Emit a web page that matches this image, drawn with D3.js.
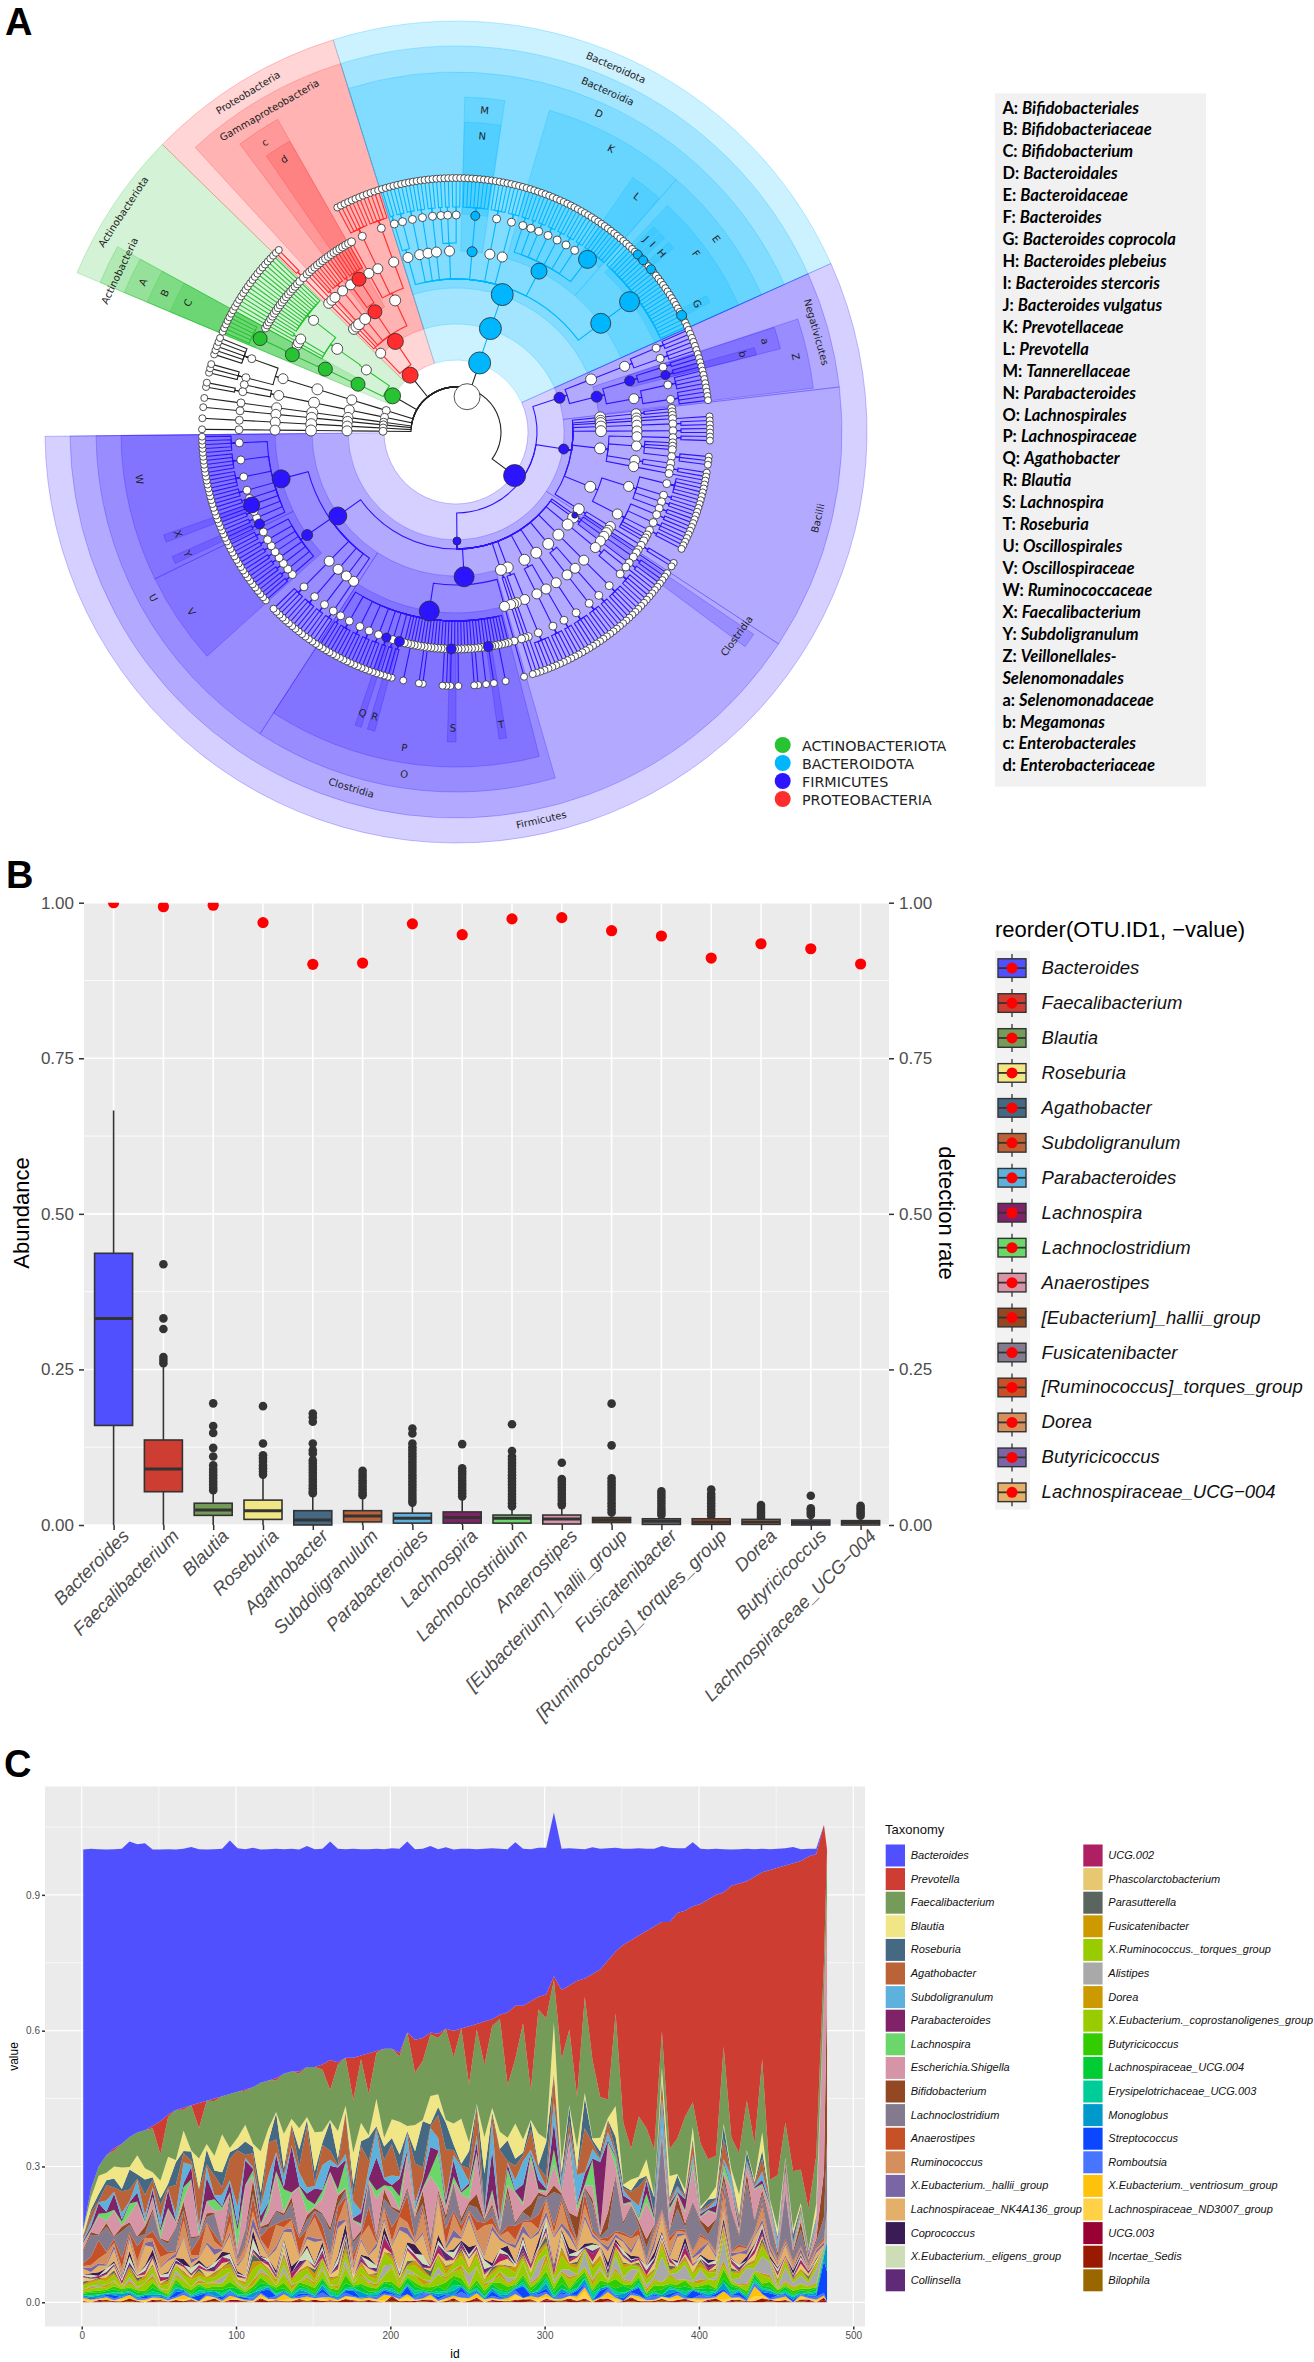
<!DOCTYPE html>
<html><head><meta charset="utf-8">
<script src="https://cdn.jsdelivr.net/npm/d3@7/dist/d3.min.js"></script>
<style>html,body{margin:0;padding:0;background:#fff}svg{display:block}</style></head>
<body><svg id="c" width="1314" height="2362" xmlns="http://www.w3.org/2000/svg"></svg>
<script>
/* ---------- PANEL A data ---------- */
const e=[],s1=[1],rep=(n,x)=>Array(n).fill(x);
const phylumColors={g:"#28c332",r:"#ff2d2d",b:"#00b7ff",f:"#2d14ff"};
const ringInner=[72,108,144,181,218,254], ringOuter=[411,386,360,335,310,285]; // phylum..species
const cladeWedges=[ // phylum key, ring level, from angle, to angle
["g",0,-67.2,-45.6],["g",1,-67.2,-61.3],["g",2,-67.2,-61.3],["g",3,-67.2,-61.3],["g",4,-67.2,-61.3],
["r",0,-45.6,-17.4],["r",1,-42.5,-17.4],["r",2,-36.9,-29.7],["r",3,-34.5,-29.8],
["b",0,-17.4,65.8],["b",1,-17.4,65.8],["b",2,-17.4,65.8],["b",3,1.5,8.4],["b",4,1.6,8.3],["b",3,16.2,41.1],["b",4,34.8,41],
["b",3,41.1,65.8],["b",4,43,65.8],["b",5,43.9,45.3],["b",5,45.7,47.1],["b",5,48.3,49.8],["b",5,61.4,63],
["f",0,65.8,269.4],["f",1,65.8,83.3],["f",1,83.3,123.3],["f",1,123.3,269.4],["f",2,71.7,83],["f",3,71.8,75.6],["f",4,74.2,75.6],
["f",2,124.2,126.6],["f",2,164,213],["f",3,165.6,213],["f",4,197.8,199],["f",4,195.2,196.6],["f",4,180,181.6],["f",4,170.6,172],
["f",2,213,269.4],["f",3,228,244],["f",3,244,269.4],["f",4,249.2,250.6],["f",4,244.9,246.3]];
const cladeLabels=[["Actinobacteriota",399,-56.5],["Actinobacteria",373,-64.4],["A",347,-64.4],["B",322.6,-64.5],["C",297.6,-64.3],
["Proteobacteria",398,-31.5],["Gammaproteobacteria",372,-30.1],["c",347,-33.4],["d",322.6,-32.2],
["Bacteroidota",398,23.7],["Bacteroidia",373,24],["D",349,24.2],["K",323,28.7],["L",297,37.5],["M",323,5.1],["N",297,5.1],
["E",324,53.4],["F",299,53.4],["G",273,62],["J",271,44.5],["I",272,46.3],["H",272.5,49],
["Negativicutes",374,74.5],["Z",348,77.5],["a",322,73.6],["b",297,74.8],["Bacilli",372,103.4],["Clostridia",347,126],
["Firmicutes",397,167.6],["Clostridia",371,196.4],["O",346,188.6],["P",320,189.3],["Q",296,198.4],["R",296,195.9],["S",296,180.6],["T",296,171.2],
["U",345,241.3],["V",320,235.8],["W",320,261.5],["X",296,249.9],["Y",295,245.6]];
const nodeRadius=[37,73,109,145,181,217,254], whiteSize=[13,4,5,5.5,5,4,3.5];
// tree: arrays are clades, a number n stands for n leaves, an object holds {a:angle, r:marker size, p:phylum, s:leaf span}
const chains=[
 [[[[[{s:[-72.7,-67.8]},5],[{s:[-77,-74]},3]]]]],
 [[[[[{a:-77.4}],[{s:[-80.3,-78.3]},2]]]]],
 [[[[[[{a:-82.3}]]]]]],[[[[[[{a:-84.4}]]]]]],[[[[[[{a:-86.9}]]]]]],[[[[[[{a:-89.4}]]]]]]];
const actino=[{r:8,a:-60.3,p:"g",s:[-67.2,-45.6]},
 [{r:7,a:-64},[{r:7,a:-64.3},[{r:7,a:-64.7},[{r:7,a:-64.5},6]]]],
 [{a:-55.3},[{a:-55},[[1]],[[1]],[[1],[1]],rep(14,s1)]]];
const proteo=[{r:8,a:-38.9,p:"r",s:[-45.6,-17.4]},
 [{a:-43.7},[[[2]]]],
 [{r:8,a:-33.8},[[e]],[[e,e]],[[e,e,e,e,e]],
  [{r:7,a:-34},[e,e],[{r:7,a:-32.4},e,e,e,e,e,e]],
  [[e],[[6]],[[6]]]]];
const bacteroidota=[{r:11,a:18.9,p:"b",s:[-17.4,65.8]},[{r:11,a:18.4},[{r:11,a:18.6},
 [[2],[3]],[[3]],[[3]],[[3]],[[2],[2],[3]],
 [{r:5,a:5.1},[{r:4.5,a:5.1},8]],
 [[5]],[[4]],
 [{r:8,a:27.3},[3],[2],[3],[3],[3],[3],[3],[{r:9,a:37.3},8]],
 [{r:10,a:53.1},[{r:10,a:53.1},4,[{r:4.5}],1,[{r:4.5}],2,[{r:4.5}],13,[{r:5}],3]]]]];
const negativicutes=[{r:5.5,a:71.7,s:[65.8,83.3]},
 [[[3],[3]]],
 [{r:5.5,a:75.9},[{r:5,a:73.6},[2],[{r:4.5,a:74.8},2]],[[4],[4]]]];
const bacilli=[{r:5,a:99,s:[83.3,123.3]},
 [[e,e]],[[e]],[[[1]]],[[[2]]],[[[2]]],
 [[[2]],[e,e,e,[3]],[e,[2]],[[1]]],
 [[[5],[2],[2],[2]],[[2],[3],[2],e,e,e]],
 [[[2]],[e]]];
const pGenera=[e,e,e,s1,e,e,[{r:5},1],e,s1,e,s1,s1,e,e,e,s1,e,[{r:5},1],s1,s1,e,e,e,e,s1,s1,e,e,e,s1,e,e,
 [{r:5},2],[2],[{r:4.5},2],[3],[3],[3],[4],[2]];
const clostridia=[{r:4,a:179.5,s:[123.3,269.4]},
 [{r:3,a:125},[[1]]],
 [[[2]],[[2]]],[[[1],[4]]],[[[5]]],[[[3]],[[4]]],[[[5]]],[[[3]],[[4]]],[[[5]],[[1]]],[[[1]],[[1]]],
 [{r:10,a:176.8,s:[164,213]},[[1]],[{r:10,a:188.5,s:[165.6,213]},...pGenera]],
 [{r:9,a:234.6,s:[213,269.4]},[[3]],[[3]],[[4]],[[4]],
  [{r:5.5,a:235.3,s:[228,244]},[2],[2],[2],[2],[2],[2],[2],[3]],
  [{r:9,a:255,s:[244,269.4]},[{r:5},2],[2],[2],[{r:8},2],[2],[3],[5],[5],[5]]]];
const firmicutes=[{r:11,a:126.6,p:"f"},negativicutes,bacilli,clostridia];
const treeData=[{a:17.4,w:1},...chains,actino,proteo,bacteroidota,firmicutes];
const markerNames=["ACTINOBACTERIOTA","BACTEROIDOTA","FIRMICUTES","PROTEOBACTERIA"];
const markerKeys=["g","b","f","r"];
const cladeKey=[["A","Bifidobacteriales"],["B","Bifidobacteriaceae"],["C","Bifidobacterium"],["D","Bacteroidales"],["E","Bacteroidaceae"],["F","Bacteroides"],["G","Bacteroides coprocola"],["H","Bacteroides plebeius"],["I","Bacteroides stercoris"],["J","Bacteroides vulgatus"],["K","Prevotellaceae"],["L","Prevotella"],["M","Tannerellaceae"],["N","Parabacteroides"],["O","Lachnospirales"],["P","Lachnospiraceae"],["Q","Agathobacter"],["R","Blautia"],["S","Lachnospira"],["T","Roseburia"],["U","Oscillospirales"],["V","Oscillospiraceae"],["W","Ruminococcaceae"],["X","Faecalibacterium"],["Y","Subdoligranulum"],["Z","Veillonellales-"],["","Selenomonadales"],["a","Selenomonadaceae"],["b","Megamonas"],["c","Enterobacterales"],["d","Enterobacteriaceae"]];

/* ---------- PANEL B data ---------- */
const boxTaxa=["Bacteroides","Faecalibacterium","Blautia","Roseburia","Agathobacter","Subdoligranulum","Parabacteroides","Lachnospira","Lachnoclostridium","Anaerostipes","[Eubacterium]_hallii_group","Fusicatenibacter","[Ruminococcus]_torques_group","Dorea","Butyricicoccus","Lachnospiraceae_UCG−004"];
const boxColors=["#5050FF","#CE3D32","#749B58","#F0E685","#466983","#BA6338","#5DB1DD","#802268","#6BD76B","#D595A7","#924822","#837B8D","#C75127","#D58F5C","#7A65A5","#E4AF69"];
const q1=[.16,.0535,.0155,.009,0,.005,.003,.003,.003,.0016,.004,.001,.001,.001,0,0];
const med=[.332,.09,.024,.023,.008,.0145,.011,.012,.011,.0096,.008,.006,.005,.005,.004,.004];
const q3=[.4366,.1366,.035,.04,.023,.023,.019,.021,.016,.016,.012,.01,.01,.009,.008,.007];
const whiskHigh=[.666,.26,.051,.078,.048,.043,.034,.043,.027,.029,.018,.015,.014,.011,.014,.012];
const detectionRate=[1,.9935,.996,.968,.901,.903,.966,.9486,.974,.976,.955,.9465,.911,.934,.926,.9015];
const outliers=[[],[.419,.332,.315,.27,.265,.26],
[.1955,.159,.148,.124,.11,.096,.09,.085,.08,.075,.07,.065,.06,.056],
[.191,.131,.112,.107,.102,.096,.091,.086,.081],
[.179,.173,.166,.131,.12,.115,.104,.099,.094,.089,.084,.079,.074,.069,.064,.059,.054,.051],
[.087,.082,.077,.072,.067,.062,.057,.052,.048],
[.155,.147,.131,.125,.12,.115,.11,.105,.1,.095,.09,.085,.08,.075,.07,.065,.06,.055,.05,.045,.04,.036],
[.13,.091,.086,.081,.076,.071,.066,.061,.056,.051,.046],
[.162,.119,.11,.105,.1,.095,.09,.085,.08,.075,.07,.065,.06,.055,.05,.045,.04,.035,.03],
[.1,.074,.07,.065,.06,.055,.05,.045,.04,.035,.032],
[.195,.128,.075,.07,.065,.06,.055,.05,.045,.04,.035,.03,.025,.02],
[.054,.049,.044,.039,.034,.029,.024,.02,.016],
[.057,.05,.045,.04,.035,.03,.025,.02,.015],
[.032,.028,.024,.02,.016,.012],[.047,.027,.024,.02,.016],[.031,.027,.023,.019,.015]];

/* ---------- PANEL C data ---------- */
const taxaLeft=["Bacteroides","Prevotella","Faecalibacterium","Blautia","Roseburia","Agathobacter","Subdoligranulum","Parabacteroides","Lachnospira","Escherichia.Shigella","Bifidobacterium","Lachnoclostridium","Anaerostipes","Ruminococcus","X.Eubacterium._hallii_group","Lachnospiraceae_NK4A136_group","Coprococcus","X.Eubacterium._eligens_group","Collinsella"];
const taxaRight=["UCG.002","Phascolarctobacterium","Parasutterella","Fusicatenibacter","X.Ruminococcus._torques_group","Alistipes","Dorea","X.Eubacterium._coprostanoligenes_group","Butyricicoccus","Lachnospiraceae_UCG.004","Erysipelotrichaceae_UCG.003","Monoglobus","Streptococcus","Romboutsia","X.Eubacterium._ventriosum_group","Lachnospiraceae_ND3007_group","UCG.003","Incertae_Sedis","Bilophila"];
const igv=["#5050FF","#CE3D32","#749B58","#F0E685","#466983","#BA6338","#5DB1DD","#802268","#6BD76B","#D595A7","#924822","#837B8D","#C75127","#D58F5C","#7A65A5","#E4AF69","#3B1B53","#CDDEB7","#612A79","#AE1F63","#E7C76F","#5A655E","#CC9900","#99CC00","#A9A9A9","#CC9900","#99CC00","#33CC00","#00CC33","#00CC99","#0099CC","#0A47FF","#4775FF","#FFC20A","#FFD147","#990033","#991A00","#996600"];
const sampleIds=[1,6,11,16,21,26,31,36,41,46,51,56,61,66,71,76,81,86,91,96,101,106,111,116,121,126,131,136,141,146,151,156,161,166,171,176,181,186,191,196,201,206,211,216,221,226,231,236,241,246,251,256,261,266,271,276,281,286,291,296,301,306,311,316,321,326,331,336,341,346,351,356,361,366,371,376,381,386,391,396,401,406,411,416,421,426,431,436,441,446,451,456,461,466,471,476,481,483];
const totalTop=[1000,1002,1001,1000,1001,1002,1018,1012,1014,1000,1000,1001,1000,1002,1006,1001,1000,1001,1002,1020,1003,1001,1004,1000,1001,1002,1001,1002,1000,1008,1001,1002,1018,1002,1001,1002,1001,1001,1002,1001,1003,1002,1018,1001,1002,1008,1001,1005,1000,1002,1002,1001,1002,1003,1002,1001,1016,1002,1001,1004,1004,1082,1002,1003,1002,1001,1005,1002,1003,1004,1002,1002,1003,1002,1002,1008,1004,1003,1003,1016,1002,1001,1002,1001,1000,1001,1002,1001,1002,1001,1002,1003,1006,1001,1002,1002,1055,1000];
const bacteroides=[840,752,701,675,661,652,653,637,634,610,600,586,575,572,571,561,555,551,547,560,538,531,529,515,511,507,496,492,490,488,481,477,483,472,461,462,456,451,447,441,443,451,422,421,418,412,408,401,400,397,392,386,382,378,367,361,361,347,336,329,324,362,312,303,292,286,280,267,248,229,212,202,193,182,172,168,164,143,138,141,122,111,102,96,80,76,72,61,52,46,42,38,36,26,17,12,0,0];
const prevotella=[0,0,0,0,2,0,0,0,0,2,30,3,0,2,0,25,0,2,0,0,0,2,0,0,0,2,0,0,2,0,0,4,30,2,0,40,3,35,2,0,0,3,0,25,18,2,3,0,20,0,40,5,30,6,3,55,45,12,90,8,14,2,40,35,80,15,55,110,150,40,130,170,150,190,170,60,210,190,170,200,190,200,210,70,220,210,200,220,90,240,230,220,240,230,260,220,60,0];
const faecalibacterium=[0,6,8,14,16,22,24,30,30,36,24,44,44,20,44,30,46,44,30,50,40,50,36,50,44,30,52,50,52,34,50,50,30,60,30,50,55,35,50,60,45,60,70,40,46,65,40,68,50,60,40,66,50,75,80,40,55,80,30,78,70,25,60,60,35,78,50,35,20,60,45,25,50,30,35,20,25,30,60,25,50,30,25,35,28,32,45,30,35,15,40,30,45,25,30,35,15,6];
const blautia=[4,9,16,6,12,20,2,25,9,4,16,30,2,20,1,30,6,12,30,4,9,25,2,30,12,1,30,6,20,2,30,9,1,25,4,30,16,2,30,6,12,30,4,20,1,30,9,2,16,30,6,1,25,4,12,2,30,9,1,20,2,30,6,1,16,4,1,12,2,20,1,9,2,16,1,6,20,1,4,12,2,1,9,1,4,16,1,2,9,1,6,1,4,2,1,9,1,0];
const roseburia=[1,2,6,4,9,2,16,6,12,2,6,4,20,2,9,1,16,4,12,6,2,20,4,9,1,25,6,2,16,4,9,2,30,6,1,12,4,20,2,9,4,16,1,9,36,2,6,20,4,1,12,2,25,4,1,16,6,2,9,1,20,1,4,12,1,25,2,6,1,9,2,1,6,1,12,2,1,9,1,4,1,4,1,6,1,2,9,1,4,1,2,1,6,1,1,1,1,0];
const agathobacter=[2,6,1,12,4,20,9,2,16,6,12,2,25,9,4,36,2,16,6,20,49,4,9,2,30,12,1,20,6,42,2,16,9,1,25,4,56,6,2,12,20,4,1,30,9,2,16,36,4,1,9,25,2,6,49,1,12,4,20,2,6,16,1,9,2,36,4,1,12,2,1,6,16,2,1,9,4,1,2,12,1,2,1,9,1,4,1,2,6,1,1,4,1,2,1,1,1,0];
const subdoligranulum=[1,4,1,9,2,6,1,16,4,2,9,1,6,20,2,4,12,1,9,2,16,4,1,6,25,2,9,1,12,4,2,20,6,1,4,16,2,9,30,1,6,2,12,4,1,20,9,2,4,16,1,6,2,25,4,1,9,16,2,6,1,12,4,2,20,1,6,2,9,1,4,1,9,2,1,16,1,4,1,6,2,1,4,1,9,1,2,1,4,1,6,1,2,1,1,4,1,0];
const parabacteroides=[1,2,9,1,16,2,1,12,1,6,2,20,1,4,12,1,25,2,1,9,4,36,1,6,1,16,2,49,1,4,12,1,6,20,1,2,9,1,36,4,1,16,2,1,6,25,1,4,12,1,2,9,1,36,1,4,1,12,2,6,1,16,1,4,1,9,1,60,2,1,6,1,1,12,2,1,4,1,9,1,2,1,6,1,1,4,1,1,2,1,1,4,1,1,2,1,1,0];
const lachnospira=[1,1,2,6,1,4,9,1,2,1,6,2,1,12,1,4,1,9,2,1,16,1,4,1,6,2,20,1,1,9,2,6,1,4,16,1,2,1,9,1,4,12,1,2,1,6,25,1,4,1,9,2,1,4,1,12,1,2,6,1,1,9,1,2,4,1,16,1,1,6,1,1,2,9,1,1,4,1,2,6,1,1,1,4,1,2,1,1,1,2,1,2,1,3,1,1,1,0];
const escherichia=[4,1,16,2,25,1,6,45,2,9,1,35,4,2,55,1,12,2,25,1,6,65,2,1,12,35,1,4,45,2,1,12,55,2,1,18,4,1,40,2,9,1,25,4,1,65,2,6,1,16,2,35,1,9,2,1,25,4,45,1,2,12,1,55,4,1,9,2,75,6,12,2,1,35,4,1,16,2,9,35,2,12,4,1,18,2,6,25,2,9,1,16,2,4,1,9,70,12];
const bifidobacterium=[1,2,1,3,1,4,2,1,6,2,1,3,1,8,2,1,4,1,2,5,1,2,9,1,3,1,2,6,1,3,2,1,4,8,1,2,3,1,2,6,1,3,2,1,10,1,2,4,1,3,2,12,1,3,1,5,2,1,14,2,1,4,1,2,16,1,3,2,18,1,2,1,3,8,1,2,1,10,3,1,2,6,1,3,1,2,8,1,2,1,3,1,2,6,1,2,20,20];
const lachnoclostridium=[9,16,4,20,2,25,6,12,2,16,4,9,20,1,12,2,6,16,1,9,4,20,2,6,1,12,4,16,2,6,1,9,25,2,4,12,1,20,2,6,12,1,4,16,2,9,1,6,20,2,4,12,1,9,2,25,1,6,2,12,1,20,2,6,1,4,16,1,9,35,6,25,2,12,4,40,6,18,2,50,9,4,25,2,35,6,60,9,4,18,2,40,6,12,2,4,9,9];
const anaerostipes=[2,6,16,1,4,9,2,20,1,6,12,2,1,9,4,16,1,6,2,12,1,4,9,2,20,1,6,2,16,1,4,9,1,12,2,6,1,16,4,1,9,2,20,1,4,6,1,12,2,4,1,9,2,6,1,4,12,1,2,9,1,4,2,6,1,9,2,1,4,1,2,1,6,1,2,1,4,1,2,1,2,1,1,4,1,2,1,1,2,1,1,2,1,1,1,1,1,0];
const ruminococcus=[1,2,4,9,2,6,1,12,4,2,9,6,1,16,4,2,20,6,1,9,2,12,4,1,6,20,2,9,1,4,16,2,6,1,12,4,2,25,1,6,2,9,4,1,16,6,2,1,12,4,1,6,20,2,1,9,4,2,16,1,6,2,12,1,4,9,1,2,6,1,4,9,1,2,6,1,12,2,1,4,9,1,2,6,1,4,1,2,6,1,2,1,4,1,2,1,1,0];
const hallii=[1,3,2,1,4,2,3,1,2,5,1,2,3,1,4,1,2,5,1,3,2,1,6,2,1,3,2,4,1,2,3,1,2,6,1,3,2,1,4,2,1,3,5,1,2,3,1,2,6,1,3,2,1,4,2,1,3,5,1,2,3,1,2,4,1,3,2,1,5,2,1,3,1,2,4,1,2,3,1,2,4,1,2,1,3,1,4,1,2,3,1,2,1,3,1,2,1,0];
const nk4a136=[4,1,6,2,12,1,9,4,16,2,6,12,1,20,4,2,25,6,1,16,4,30,2,9,1,20,6,36,2,4,16,1,9,25,2,6,12,1,20,4,2,36,6,1,16,4,25,2,9,1,20,4,2,30,6,1,12,2,25,4,1,16,2,9,1,20,4,2,12,1,6,2,16,1,4,9,1,20,2,6,1,12,2,4,1,9,2,6,1,4,2,9,1,2,1,4,1,0];
const coprococcus=[0,1,3,0,2,1,4,0,1,5,0,2,1,6,0,3,1,0,4,1,2,0,5,1,0,3,1,7,0,2,1,4,0,2,6,0,1,3,0,5,1,0,2,7,0,1,4,0,2,1,5,0,1,3,0,6,1,2,0,4,0,2,1,5,0,3,1,0,6,2,0,3,1,0,4,1,0,2,5,0,1,3,0,2,1,0,4,1,0,2,1,0,3,1,0,1,0,0];
const eligens=[1,2,0,3,1,2,5,1,3,0,2,4,1,0,6,2,1,3,0,5,1,2,7,0,3,1,4,0,2,8,1,3,0,5,1,2,0,6,3,1,0,4,2,1,7,0,3,1,5,0,2,1,6,0,3,1,2,4,0,1,5,0,2,1,3,0,4,1,2,0,3,1,0,4,1,2,0,3,1,0,2,1,3,0,1,2,0,3,1,0,2,0,1,2,0,1,0,0];
const collinsella=[0,1,0,2,1,0,3,0,1,2,0,1,3,0,2,0,1,4,0,1,2,0,1,3,0,2,1,0,5,0,1,2,0,3,1,0,2,0,4,1,0,2,1,0,3,0,1,6,0,2,1,0,3,1,0,2,0,4,1,0,2,1,0,3,0,1,2,0,5,0,1,2,0,1,3,0,1,0,2,1,0,3,0,1,0,2,1,0,3,0,1,0,2,0,1,0,0,0];
const ucg002=[1,0,2,0,1,3,0,1,2,0,4,1,0,2,0,3,1,0,5,1,0,2,1,0,3,1,0,6,2,0,1,4,0,2,1,0,3,1,0,7,2,0,1,3,0,2,5,0,1,2,0,3,1,0,6,1,0,2,4,0,1,3,0,2,1,0,5,1,0,3,1,0,2,4,0,1,3,0,6,1,0,2,1,0,3,1,0,4,1,0,2,1,0,3,1,0,0,0];
const phascolarctobacterium=[3,1,0,2,4,1,0,3,1,5,2,0,1,4,2,0,6,1,3,0,2,5,1,0,3,1,7,0,2,4,1,0,3,6,1,2,0,5,1,3,0,2,8,1,0,3,1,4,2,0,6,1,3,0,2,5,1,0,4,1,2,0,7,1,3,0,2,6,1,0,4,1,2,0,5,1,3,0,2,6,1,0,3,1,4,0,2,5,1,0,3,1,0,4,2,1,0,0];
const parasutterella=[2,0,1,0,3,0,1,4,0,1,0,2,0,1,0,3,0,1,0,2,0,1,5,0,1,0,2,0,1,0,3,0,1,0,4,0,1,0,2,0,1,0,3,0,1,6,0,1,0,2,0,1,0,3,0,1,0,2,0,1,4,0,1,0,2,0,1,0,3,0,1,0,2,0,1,0,4,0,1,0,2,0,1,0,3,0,1,0,2,0,1,0,1,0,2,0,0,0];
const fusicatenibacter=[1,2,1,3,2,1,4,2,3,1,2,4,1,3,2,5,1,3,2,4,1,3,5,2,1,4,2,3,1,2,5,1,3,2,4,1,3,2,5,1,3,2,1,4,3,1,2,5,1,3,2,4,1,3,2,1,5,2,1,3,2,1,4,2,3,1,2,5,1,2,3,1,2,4,1,3,2,1,3,2,4,1,2,3,1,2,1,3,2,1,2,3,1,2,1,2,0,0];
const torques=[3,2,4,3,5,2,4,6,3,5,2,6,4,3,7,2,5,3,6,4,2,5,7,3,4,2,6,3,8,4,2,5,3,7,4,2,6,3,5,8,3,4,2,6,5,3,7,2,4,6,3,9,2,5,3,7,4,2,6,3,5,2,8,3,4,2,6,5,2,4,7,3,2,5,3,6,2,4,3,7,2,5,3,2,6,3,2,4,5,2,3,5,2,3,2,3,0,0];
const alistipes=[0,1,2,0,1,0,3,1,0,2,1,0,4,1,0,2,0,1,5,0,1,2,0,3,1,0,6,1,0,2,0,3,1,0,4,1,0,2,0,7,1,0,3,1,0,2,5,0,1,0,8,1,0,2,0,4,1,0,3,10,0,2,1,6,0,12,1,3,0,8,1,10,0,4,2,14,0,6,12,1,8,0,3,10,1,5,14,2,8,10,1,12,3,6,2,10,2,4];
const dorea=[1,1,0,2,1,0,2,1,1,3,0,1,2,1,0,3,1,1,0,2,1,0,3,1,2,0,1,4,0,1,2,1,0,3,1,0,2,1,3,0,1,2,0,1,4,1,0,2,1,3,0,1,2,0,3,1,1,0,2,1,4,0,1,2,1,0,3,1,0,2,1,1,0,3,1,0,2,1,0,1,3,0,1,2,0,1,2,0,1,2,0,1,1,0,1,1,0,0];
const coprostanoligenes=[1,2,3,2,4,1,3,2,5,3,1,4,2,6,3,1,5,2,3,7,2,4,1,3,5,2,8,3,1,4,2,6,3,1,5,2,7,3,2,4,9,1,3,5,2,4,8,2,3,6,2,10,3,1,5,2,4,9,3,2,6,3,1,7,2,4,3,8,2,5,3,2,6,1,4,2,7,3,1,5,2,4,6,2,3,1,5,2,4,3,1,3,2,4,1,2,0,0];
const butyricicoccus=[1,1,2,1,3,2,1,3,2,4,1,2,3,1,4,2,1,3,2,5,1,3,2,4,1,2,5,1,3,2,4,1,2,3,5,1,2,4,3,1,2,5,1,3,2,4,1,6,2,3,1,4,2,1,5,3,1,2,4,1,3,2,5,1,2,3,1,4,2,6,1,3,2,1,4,2,1,3,5,1,2,3,1,4,2,1,3,2,1,4,2,1,3,1,2,1,0,0];
const ucg004=[1,2,1,2,3,1,2,4,1,3,2,1,3,2,1,4,2,1,3,2,5,1,2,3,1,4,2,1,3,1,2,4,1,2,3,1,5,2,1,3,2,1,4,3,1,2,3,1,5,2,1,3,2,4,1,2,1,3,2,4,1,2,3,1,4,2,1,3,1,2,5,1,3,2,1,3,2,1,4,1,2,3,1,2,4,1,2,3,1,2,1,3,1,2,1,2,1,0];
const erysipelotrichaceae=[0,1,1,0,2,1,1,2,0,3,1,1,2,0,1,3,1,0,2,1,1,3,0,2,1,1,0,3,1,2,0,1,4,1,1,2,0,1,3,1,2,0,1,3,1,0,2,1,4,0,1,2,1,0,3,1,1,2,0,1,3,1,0,2,1,1,4,0,1,2,1,0,3,1,1,0,2,1,3,0,1,2,1,0,3,1,0,2,1,1,0,2,1,0,1,1,1,0];
const monoglobus=[1,1,2,1,1,3,1,2,1,1,2,1,3,1,1,2,1,4,1,2,1,1,3,1,2,1,1,2,4,1,1,3,1,2,1,1,5,1,2,1,1,2,1,3,1,1,2,1,4,1,2,1,1,3,1,2,1,1,2,1,3,1,2,1,1,4,1,2,1,1,3,1,1,2,1,1,4,1,2,1,1,2,1,3,1,1,2,1,1,2,1,1,2,1,1,2,2,4];
const streptococcus=[0,1,0,1,3,0,1,0,2,0,1,0,4,1,0,6,1,0,2,0,1,3,0,1,8,0,1,0,2,1,0,3,1,0,1,5,0,1,0,2,1,0,6,0,1,0,2,1,0,3,0,1,0,4,1,0,1,8,0,1,2,0,1,0,3,1,0,5,1,0,2,1,6,0,1,0,3,1,0,8,1,0,2,1,0,3,1,0,1,4,0,1,2,0,1,1,14,4];
const romboutsia=[1,0,1,1,2,1,0,2,1,1,0,2,1,3,1,0,2,1,1,3,0,1,2,1,1,3,1,0,2,1,1,4,0,1,2,1,1,0,3,1,1,2,0,1,3,1,1,2,0,4,1,1,0,2,1,1,3,0,1,2,1,0,3,1,1,2,0,1,4,1,0,2,1,1,3,0,1,2,1,0,3,1,1,0,2,1,1,3,0,1,2,1,0,1,1,2,1,0];
const ventriosum=[1,1,0,2,0,1,3,0,1,0,2,0,1,4,0,1,2,0,1,3,0,1,0,2,0,1,5,0,1,2,0,1,3,0,1,0,2,1,0,4,0,1,2,0,1,3,0,1,2,0,1,4,0,1,0,2,1,0,3,1,2,0,1,0,2,3,1,0,6,1,0,1,2,0,1,0,1,3,0,1,2,0,1,4,0,1,0,8,1,0,1,2,0,1,0,1,1,0];
const nd3007=[1,1,1,0,1,2,0,1,1,2,0,1,1,2,1,0,3,1,0,1,2,0,1,1,2,0,1,3,0,1,1,2,0,1,1,3,0,1,2,1,0,1,3,1,0,2,1,1,0,3,1,0,2,1,1,0,4,1,0,2,1,1,0,2,1,6,0,1,1,2,0,1,2,1,0,1,2,1,0,2,1,1,0,1,2,1,0,4,1,0,1,1,0,2,1,1,0,0];
const ucg003=[0,0,1,0,1,0,0,1,0,1,0,1,0,0,1,0,1,0,0,1,1,0,0,1,0,1,0,0,1,0,1,0,1,0,0,1,0,1,0,0,1,0,0,1,0,1,0,0,1,0,0,1,0,1,0,0,1,0,1,0,1,0,0,1,0,1,0,0,2,0,0,1,0,1,0,0,1,0,1,0,0,1,0,0,1,0,1,0,0,1,0,1,0,0,1,0,1,0];
const incertaeSedis=[1,0,1,1,0,1,2,1,0,1,1,0,2,1,1,0,1,2,0,1,1,1,0,2,1,0,1,1,2,0,1,1,0,1,2,1,0,1,1,0,2,1,1,0,1,2,0,1,1,0,1,2,0,1,1,0,1,2,1,0,1,1,0,2,1,1,0,3,1,0,1,2,1,0,1,1,0,2,1,1,0,1,2,0,1,1,0,1,2,0,1,1,0,1,1,0,1,0];
const bilophila=[0,0,0,1,0,0,1,0,0,0,1,0,0,0,1,0,0,1,0,0,0,1,0,0,0,1,0,0,0,1,0,0,1,0,0,0,1,0,0,0,1,0,0,0,1,0,0,0,1,0,0,1,0,0,0,1,0,0,1,0,0,0,1,0,0,1,0,0,1,0,0,1,0,0,0,1,0,0,1,0,0,0,1,0,0,1,0,0,0,1,0,0,0,1,0,0,0,0];
const lowerSeries=[prevotella,faecalibacterium,blautia,roseburia,agathobacter,subdoligranulum,parabacteroides,lachnospira,escherichia,bifidobacterium,lachnoclostridium,anaerostipes,ruminococcus,hallii,nk4a136,coprococcus,eligens,collinsella,ucg002,phascolarctobacterium,parasutterella,fusicatenibacter,torques,alistipes,dorea,coprostanoligenes,butyricicoccus,ucg004,erysipelotrichaceae,monoglobus,streptococcus,romboutsia,ventriosum,nd3007,ucg003,incertaeSedis,bilophila];

/* ---------- drawing ---------- */
const svg=d3.select("#c");
const SANS="'Liberation Sans',Arial,sans-serif", DJ="'DejaVu Sans',sans-serif";
[["A",5,35],["B",6,888],["C",4,1777]].forEach(d=>svg.append("text").attr("x",d[1]).attr("y",d[2]).text(d[0]).attr("font-family",SANS).attr("font-weight",700).attr("font-size",38).attr("fill","#000"));

// Panel A
const A=svg.append("g");
const cx=456,cy=432,rad=Math.PI/180;
const pt=(r,a)=>[cx+r*Math.sin(a*rad),cy-r*Math.cos(a*rad)];
const arcGen=d3.arc();
A.append("g").selectAll("path").data(cladeWedges).join("path")
 .attr("transform",`translate(${cx},${cy})`)
 .attr("d",d=>arcGen({innerRadius:ringInner[d[1]],outerRadius:ringOuter[d[1]],startAngle:d[2]*rad,endAngle:d[3]*rad}))
 .attr("fill",d=>phylumColors[d[0]]).attr("fill-opacity",.2).attr("stroke",d=>phylumColors[d[0]]).attr("stroke-opacity",.25).attr("stroke-width",1);
const isTag=x=>x&&typeof x==="object"&&!Array.isArray(x);
const tagOf=d=>d.find(isTag)||{};
const kidsOf=d=>{const o=[];d.forEach(x=>{if(typeof x==="number"){for(let i=0;i<x;i++)o.push([]);}else if(Array.isArray(x))o.push(x);});return o.length?o:null;};
const root=d3.hierarchy(treeData,kidsOf);
root.each(n=>{const t=tagOf(n.data);n.tag=t;n.ph=t.p||(n.parent?n.parent.ph:null);
 if(t.s){const ls=n.leaves();const sc=d3.scalePoint().domain(d3.range(ls.length)).range(t.s).padding(.5);ls.forEach((l,i)=>l.leafA=sc(i));}});
root.eachAfter(n=>{const t=n.tag;if(t.a!==undefined)n.ang=t.a;else if(n.children)n.ang=d3.mean(n.children,c=>c.ang);else n.ang=n.leafA;});
const linkPath=l=>{const p=l.source,c=l.target,rp=nodeRadius[p.depth],rc=nodeRadius[c.depth],rm=rp+8;
 const a=pt(rp,p.ang),b=pt(rm,p.ang),d=pt(rm,c.ang),f=pt(rc,c.ang);
 const large=Math.abs(c.ang-p.ang)>180?1:0,sw=c.ang>p.ang?1:0;
 return `M${a}L${b}A${rm},${rm} 0 ${large} ${sw} ${d}L${f}`;};
A.append("g").selectAll("path").data(root.links()).join("path").attr("d",linkPath).attr("fill","none")
 .attr("stroke",l=>(l.source.depth>0&&l.target.ph)?phylumColors[l.target.ph]:"#222").attr("stroke-width",1.1);
const nodes=root.descendants();
const colored=n=>n.tag.r&&n.ph;
A.append("g").selectAll("circle").data(nodes.filter(n=>!colored(n)).concat(nodes.filter(colored))).join("circle")
 .attr("cx",n=>pt(nodeRadius[n.depth],n.ang)[0]).attr("cy",n=>pt(nodeRadius[n.depth],n.ang)[1])
 .attr("r",n=>colored(n)?n.tag.r:whiteSize[n.depth]).attr("fill",n=>colored(n)?phylumColors[n.ph]:"#fff")
 .attr("stroke","#2a2a2a").attr("stroke-width",.8);
A.append("g").selectAll("text").data(cladeLabels).join("text").text(d=>d[0])
 .attr("transform",d=>{const p=pt(d[1],d[2]);const n=(d[2]+360)%360;const rot=(n>90&&n<270)?d[2]-180:d[2];return `translate(${p}) rotate(${rot})`;})
 .attr("text-anchor","middle").attr("dy",".35em").attr("font-family",DJ).attr("font-size",10).attr("fill","#222");
markerNames.forEach((m,i)=>{const y=745+i*18;
 A.append("circle").attr("cx",782.7).attr("cy",y).attr("r",8).attr("fill",phylumColors[markerKeys[i]]);
 A.append("text").attr("x",802).attr("y",y+5.5).text(m).attr("font-family",DJ).attr("font-size",14.3).attr("fill","#222");});
A.append("rect").attr("x",995).attr("y",93.3).attr("width",211).attr("height",693.4).attr("fill","#f1f1f1");
cladeKey.forEach((d,i)=>{const t=A.append("text").attr("x",1002.4).attr("y",113.5+i*21.93).attr("font-family","Lato,sans-serif").attr("font-size",16.5).attr("font-weight",700).attr("fill","#000");
 if(d[0])t.append("tspan").text(d[0]+": ");
 t.append("tspan").attr("font-style","italic").text(d[1]);});

// Panel B
const B=svg.append("g");
const bL=84,bR=889,bT=902.7,bB=1525;
const xB=d3.scalePoint().domain(boxTaxa).range([113.6,860.6]);
const yB=d3.scaleLinear().domain([0,1]).range([bB,bT]);
B.append("rect").attr("x",bL).attr("y",bT).attr("width",bR-bL).attr("height",bB-bT).attr("fill","#ebebeb");
[.125,.375,.625,.875].forEach(v=>B.append("line").attr("x1",bL).attr("x2",bR).attr("y1",yB(v)).attr("y2",yB(v)).attr("stroke","#fff").attr("stroke-width",.8));
[0,.25,.5,.75,1].forEach(v=>B.append("line").attr("x1",bL).attr("x2",bR).attr("y1",yB(v)).attr("y2",yB(v)).attr("stroke","#fff").attr("stroke-width",1.6));
boxTaxa.forEach(t=>B.append("line").attr("x1",xB(t)).attr("x2",xB(t)).attr("y1",bT).attr("y2",bB).attr("stroke","#fff").attr("stroke-width",1.6));
svg.append("defs").append("clipPath").attr("id","pb").append("rect").attr("x",bL).attr("y",bT).attr("width",bR-bL).attr("height",bB-bT+1);
const bp=B.append("g");
boxTaxa.forEach((t,i)=>{const x=xB(t),w=38;
 bp.append("line").attr("x1",x).attr("x2",x).attr("y1",yB(whiskHigh[i])).attr("y2",yB(0)).attr("stroke","#333").attr("stroke-width",1.6);
 bp.selectAll(null).data(outliers[i]).join("circle").attr("cx",x).attr("cy",d=>yB(d)).attr("r",4.3).attr("fill","#333");
 bp.append("rect").attr("x",x-w/2).attr("width",w).attr("y",yB(q3[i])).attr("height",yB(q1[i])-yB(q3[i])).attr("fill",boxColors[i]).attr("stroke","#333").attr("stroke-width",1.6);
 bp.append("line").attr("x1",x-w/2).attr("x2",x+w/2).attr("y1",yB(med[i])).attr("y2",yB(med[i])).attr("stroke","#333").attr("stroke-width",3);
});
B.append("g").attr("clip-path","url(#pb)").selectAll("circle").data(detectionRate).join("circle").attr("cx",(d,i)=>xB(boxTaxa[i])).attr("cy",d=>yB(d)).attr("r",5.6).attr("fill","#ff0000");
const styleAxis=(g,size)=>{g.select(".domain").remove();g.selectAll(".tick line").attr("stroke","#333").attr("stroke-width",1.5);g.selectAll(".tick text").attr("fill","#4d4d4d").attr("font-family",SANS).attr("font-size",size);};
B.append("g").attr("transform",`translate(${bL},0)`).call(d3.axisLeft(yB).tickValues([0,.25,.5,.75,1]).tickFormat(d3.format(".2f")).tickSize(5).tickPadding(5)).call(styleAxis,17);
B.append("g").attr("transform",`translate(${bR},0)`).call(d3.axisRight(yB).tickValues([0,.25,.5,.75,1]).tickFormat(d3.format(".2f")).tickSize(5).tickPadding(5)).call(styleAxis,17);
const xa=B.append("g").attr("transform",`translate(0,${bB})`).call(d3.axisBottom(xB).tickSize(5)).call(styleAxis,18.5);
xa.selectAll(".tick text").attr("font-style","italic").attr("text-anchor","end").attr("transform","translate(7,3) rotate(-45)").attr("x",0).attr("y",0).attr("dy",".7em").attr("fill","#4d4d4d");
B.append("text").attr("transform","translate(29,1213) rotate(-90)").attr("text-anchor","middle").text("Abundance").attr("font-family",SANS).attr("font-size",22).attr("fill","#000");
B.append("text").attr("transform","translate(939,1213) rotate(90)").attr("text-anchor","middle").text("detection rate").attr("font-family",SANS).attr("font-size",22).attr("fill","#000");
B.append("text").attr("x",995).attr("y",937).text("reorder(OTU.ID1, −value)").attr("font-family",SANS).attr("font-size",22).attr("fill","#000");
B.append("rect").attr("x",995).attr("y",950.6).attr("width",35).attr("height",559).attr("fill","#f2f2f2");
boxTaxa.forEach((t,i)=>{const y=950.6+34.95*(i+.5),x=1012;
 B.append("line").attr("x1",x).attr("x2",x).attr("y1",y-14).attr("y2",y+14).attr("stroke","#333").attr("stroke-width",1.3);
 B.append("rect").attr("x",x-14).attr("y",y-9.3).attr("width",28).attr("height",18.6).attr("fill",boxColors[i]).attr("stroke","#333").attr("stroke-width",1.4);
 B.append("line").attr("x1",x-14).attr("x2",x+14).attr("y1",y).attr("y2",y).attr("stroke","#333").attr("stroke-width",1.8);
 B.append("circle").attr("cx",x).attr("cy",y).attr("r",5.5).attr("fill","#ff0000");
 B.append("text").attr("x",1041.6).attr("y",y+6).text(t).attr("font-family",SANS).attr("font-style","italic").attr("font-size",18.5).attr("fill","#111");
});

// Panel C
const C=svg.append("g");
const cL=45,cR=865,cT=1786.4,cB=2326.5;
const xC=d3.scaleLinear().domain([-23.78,507.6]).range([cL,cR]);
const yC=d3.scaleLinear().domain([-.0535,1.1396]).range([cB,cT]);
C.append("rect").attr("x",cL).attr("y",cT).attr("width",cR-cL).attr("height",cB-cT).attr("fill","#ebebeb");
[.15,.45,.75,1.05].forEach(v=>C.append("line").attr("x1",cL).attr("x2",cR).attr("y1",yC(v)).attr("y2",yC(v)).attr("stroke","#fff").attr("stroke-width",.6));
[0,.3,.6,.9].forEach(v=>C.append("line").attr("x1",cL).attr("x2",cR).attr("y1",yC(v)).attr("y2",yC(v)).attr("stroke","#fff").attr("stroke-width",1.2));
[50,150,250,350,450].forEach(v=>C.append("line").attr("y1",cT).attr("y2",cB).attr("x1",xC(v)).attr("x2",xC(v)).attr("stroke","#fff").attr("stroke-width",.6));
[0,100,200,300,400,500].forEach(v=>C.append("line").attr("y1",cT).attr("y2",cB).attr("x1",xC(v)).attr("x2",xC(v)).attr("stroke","#fff").attr("stroke-width",1.2));
const taxa=taxaLeft.concat(taxaRight);
const lowerNames=taxa.slice(1);
const rows=sampleIds.map((id,i)=>{const room=(totalTop[i]-bacteroides[i])/1000,sum=d3.sum(lowerSeries,a=>a[i]||0)||1;
 const r={id,[taxa[0]]:bacteroides[i]/1000};lowerNames.forEach((n,k)=>r[n]=(lowerSeries[k][i]||0)*room/sum);return r;});
const stacked=d3.stack().keys(taxa.slice().reverse())(rows);
const area=d3.area().x(d=>xC(d.data.id)).y0(d=>yC(d[0])).y1(d=>yC(d[1]));
C.append("g").selectAll("path").data(stacked).join("path").attr("d",area).attr("fill",s=>igv[taxa.indexOf(s.key)]);
C.append("g").attr("transform",`translate(${cL},0)`).call(d3.axisLeft(yC).tickValues([0,.3,.6,.9]).tickFormat(d3.format(".1f")).tickSize(3).tickPadding(2)).call(styleAxis,10);
C.append("g").attr("transform",`translate(0,${cB})`).call(d3.axisBottom(xC).tickValues([0,100,200,300,400,500]).tickFormat(d3.format("d")).tickSize(3).tickPadding(2)).call(styleAxis,10);
C.append("text").attr("x",455).attr("y",2358).attr("text-anchor","middle").text("id").attr("font-family",SANS).attr("font-size",12).attr("fill","#000");
C.append("text").attr("transform","translate(18,2056.5) rotate(-90)").attr("text-anchor","middle").text("value").attr("font-family",SANS).attr("font-size",12).attr("fill","#000");
C.append("text").attr("x",885).attr("y",1834).text("Taxonomy").attr("font-family",SANS).attr("font-size",13).attr("fill","#111");
[[taxaLeft,885.7,910.7,0],[taxaRight,1083.3,1108.3,taxaLeft.length]].forEach(col=>{
 col[0].forEach((n,i)=>{const y=1844+i*23.6;
  C.append("text").attr("x",col[2]).attr("y",y+15).text(n).attr("font-family",SANS).attr("font-style","italic").attr("font-size",11).attr("fill","#111");
 });
 col[0].forEach((n,i)=>{const y=1844+i*23.6;
  C.append("rect").attr("x",col[1]).attr("y",y+.5).attr("width",19.3).attr("height",22).attr("fill",igv[col[3]+i]);
 });
});
</script></body></html>
